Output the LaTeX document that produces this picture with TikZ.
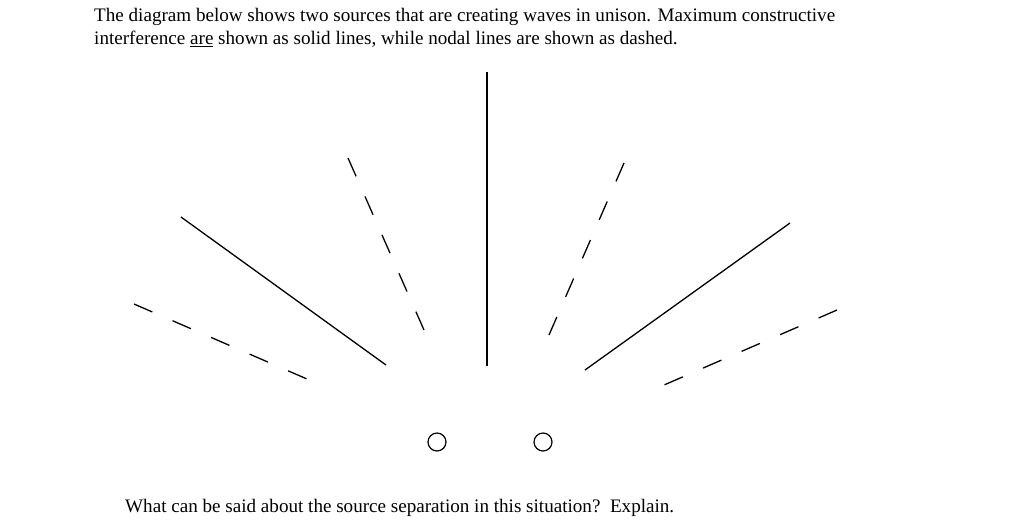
\documentclass[tikz,border=0pt]{standalone}
\usepackage{fontspec}
\setmainfont{Liberation Serif}
\begin{document}
\begin{tikzpicture}[x=1pt,y=-1pt,
  solidl/.style={line width=1.3pt},
  dashl/.style={line width=1.3pt,dash pattern=on 20pt off 22pt},
  src/.style={circle,draw,line width=1.2pt,minimum size=18pt,inner sep=0pt},
  txt/.style={anchor=west,inner sep=0pt,font=\fontsize{19.1}{22}\selectfont}]
\useasboundingbox (0,0) rectangle (1024,528);
\node[txt] (t1) at (94,17) {The diagram below shows two sources that are creating waves in unison. Maximum constructive};
\node[txt] (t2) at (94,39) {interference \underline{are} shown as solid lines, while nodal lines are shown as dashed.};
\node[txt] (t3) at (125,508) {What can be said about the source separation in this situation?\ \ Explain.};
\node[src] (s1) at (437,442) {};
\node[src] (s2) at (543,442) {};
\coordinate (c1a) at (487,72); \coordinate (c1b) at (487,366);
\coordinate (c2a) at (181,217); \coordinate (c2b) at (386,365);
\coordinate (c3a) at (790,223); \coordinate (c3b) at (585,370);
\draw[solidl] (c1a) -- (c1b);
\draw[solidl] (c2a) -- (c2b);
\draw[solidl] (c3a) -- (c3b);
\coordinate (d1a) at (134,304); \coordinate (d1b) at (307,379);
\coordinate (d2a) at (348,158); \coordinate (d2b) at (424,330);
\coordinate (d3a) at (624,163); \coordinate (d3b) at (549,335);
\coordinate (d4a) at (837,310); \coordinate (d4b) at (664,385);
\draw[dashl] (d1a) -- (d1b);
\draw[dashl] (d2a) -- (d2b);
\draw[dashl] (d3a) -- (d3b);
\draw[dashl] (d4a) -- (d4b);
\end{tikzpicture}
\end{document}
